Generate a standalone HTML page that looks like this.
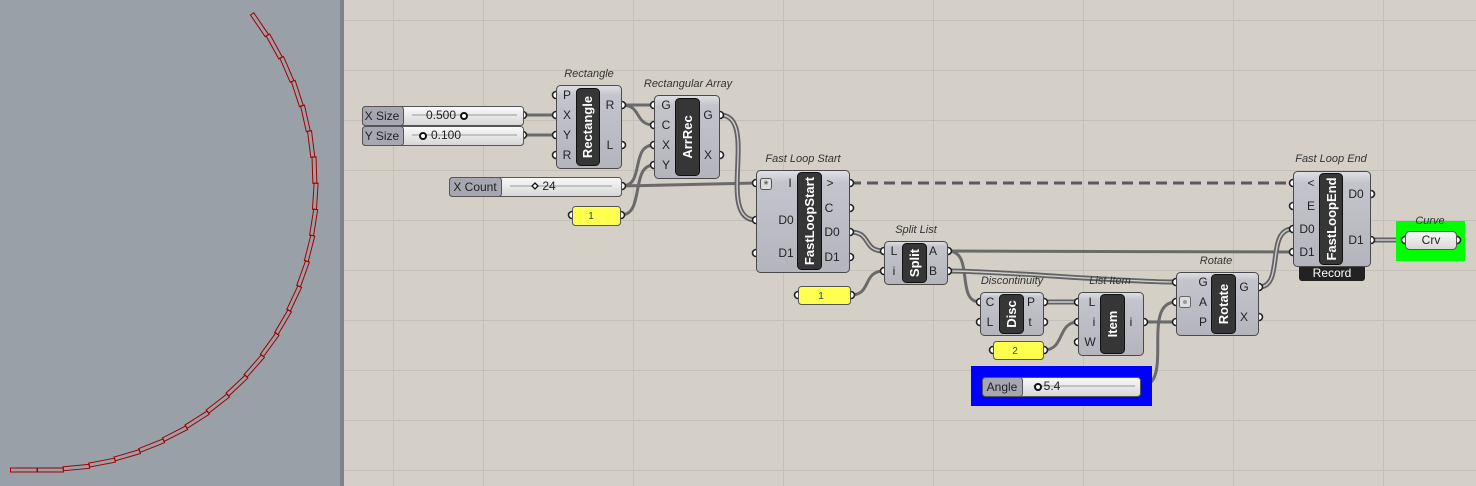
<!DOCTYPE html>
<html><head><meta charset="utf-8"><style>
html,body{margin:0;padding:0;width:1476px;height:486px;overflow:hidden;background:#d4d0c8}
svg{display:block}
text{font-family:"Liberation Sans",sans-serif}
.t{font-size:11px;font-style:italic;fill:#333;text-anchor:middle}
.p{font-size:12px;fill:#222;text-anchor:middle}
.b{font-size:13px;font-weight:bold;fill:#fff;text-anchor:middle}
.w{fill:none;stroke:#6a6a6a;stroke-width:3}
.dw{fill:none;stroke:#626262;stroke-width:5}
.di{fill:none;stroke:#cfcfcf;stroke-width:1.4}
.g{fill:#fff;stroke:#222;stroke-width:1.6}
.body{fill:url(#cg);stroke:#4a4a4a;stroke-width:1}
.bar{fill:#363636;stroke:#111;stroke-width:1}
.sl{fill:url(#sg);stroke:#555;stroke-width:1}
.sll{fill:#a7a7b2;stroke:#555;stroke-width:1}
.tk{stroke:#999;stroke-width:1}
</style></head><body>
<svg width="1476" height="486" viewBox="0 0 1476 486" xmlns="http://www.w3.org/2000/svg">
<defs>
<linearGradient id="cg" x1="0" y1="0" x2="0" y2="1"><stop offset="0" stop-color="#e0e0e6"/><stop offset="0.12" stop-color="#c4c4cc"/><stop offset="1" stop-color="#b4b4bc"/></linearGradient>
<linearGradient id="sg" x1="0" y1="0" x2="0" y2="1"><stop offset="0" stop-color="#fafafa"/><stop offset="1" stop-color="#d6d6d6"/></linearGradient>
</defs>
<rect x="0" y="0" width="342" height="486" fill="#9aa0a7"/>
<rect x="340" y="0" width="4" height="486" fill="#7f848a"/>
<g stroke="#c4c0b8" stroke-width="1">
<line x1="344" y1="20.5" x2="1476" y2="20.5"/><line x1="344" y1="70.5" x2="1476" y2="70.5"/>
<line x1="344" y1="120.5" x2="1476" y2="120.5"/><line x1="344" y1="170.5" x2="1476" y2="170.5"/>
<line x1="344" y1="220.5" x2="1476" y2="220.5"/><line x1="344" y1="270.5" x2="1476" y2="270.5"/>
<line x1="344" y1="320.5" x2="1476" y2="320.5"/><line x1="344" y1="370.5" x2="1476" y2="370.5"/>
<line x1="344" y1="420.5" x2="1476" y2="420.5"/><line x1="344" y1="470.5" x2="1476" y2="470.5"/>
<line x1="393.5" y1="0" x2="393.5" y2="486"/><line x1="483.5" y1="0" x2="483.5" y2="486"/>
<line x1="633.5" y1="0" x2="633.5" y2="486"/><line x1="783.5" y1="0" x2="783.5" y2="486"/>
<line x1="933.5" y1="0" x2="933.5" y2="486"/><line x1="1083.5" y1="0" x2="1083.5" y2="486"/>
<line x1="1233.5" y1="0" x2="1233.5" y2="486"/><line x1="1383.5" y1="0" x2="1383.5" y2="486"/>
</g>
<g fill="none" stroke="#a00000" stroke-width="1">
<rect x="10.5" y="468" width="27" height="4"/>
<g id="seg"><rect x="37" y="468" width="26.4" height="4"/></g>
<use href="#seg" transform="rotate(-5.4 37 192)"/><use href="#seg" transform="rotate(-10.8 37 192)"/>
<use href="#seg" transform="rotate(-16.2 37 192)"/><use href="#seg" transform="rotate(-21.6 37 192)"/>
<use href="#seg" transform="rotate(-27 37 192)"/><use href="#seg" transform="rotate(-32.4 37 192)"/>
<use href="#seg" transform="rotate(-37.8 37 192)"/><use href="#seg" transform="rotate(-43.2 37 192)"/>
<use href="#seg" transform="rotate(-48.6 37 192)"/><use href="#seg" transform="rotate(-54 37 192)"/>
<use href="#seg" transform="rotate(-59.4 37 192)"/><use href="#seg" transform="rotate(-64.8 37 192)"/>
<use href="#seg" transform="rotate(-70.2 37 192)"/><use href="#seg" transform="rotate(-75.6 37 192)"/>
<use href="#seg" transform="rotate(-81 37 192)"/><use href="#seg" transform="rotate(-86.4 37 192)"/>
<use href="#seg" transform="rotate(-91.8 37 192)"/><use href="#seg" transform="rotate(-97.2 37 192)"/>
<use href="#seg" transform="rotate(-102.6 37 192)"/><use href="#seg" transform="rotate(-108 37 192)"/>
<use href="#seg" transform="rotate(-113.4 37 192)"/><use href="#seg" transform="rotate(-118.8 37 192)"/>
<use href="#seg" transform="rotate(-124.2 37 192)"/>
</g>

<path class="w" d="M523 115 L556 115"/>
<path class="w" d="M523 135 L556 135"/>
<path class="w" d="M622 105 C640 105,636 105,654 105"/>
<path class="w" d="M622 105 C642 105,634 125,654 125"/>
<path class="w" d="M622 186 C645 186,630 145,654 145"/>
<path class="w" d="M622 186 L756 183"/>
<path class="w" d="M621 215 C645 215,630 165,654 165"/>
<path class="dw" d="M720 115 C760 115,715 220,756 220"/><path class="di" d="M720 115 C760 115,715 220,756 220"/>
<path d="M850 183 L1293 183" fill="none" stroke="#5a5a5a" stroke-width="3" stroke-dasharray="11,6"/>
<path class="dw" d="M850 232 C872 232,862 251,884 251"/><path class="di" d="M850 232 C872 232,862 251,884 251"/>
<path class="w" d="M851 295 C872 295,862 271,884 271"/>
<path class="w" d="M948 251 L1293 252"/>
<path class="w" d="M948 251 C975 251,955 302,980 302"/>
<path class="dw" d="M948 271 C1000 271,1120 282,1176 282"/><path class="di" d="M948 271 C1000 271,1120 282,1176 282"/>
<path class="dw" d="M1044 302 L1078 302"/><path class="di" d="M1044 302 L1078 302"/>
<path class="w" d="M1044 350 C1065 350,1057 322,1078 322"/>
<path class="w" d="M1144 322 L1176 322"/>
<path class="w" d="M1141 386 C1175 386,1140 302,1176 302"/>
<path class="dw" d="M1259 287 C1285 287,1265 229,1293 229"/><path class="di" d="M1259 287 C1285 287,1265 229,1293 229"/>
<path class="dw" d="M1371 240 L1405 240"/><path class="di" d="M1371 240 L1405 240"/>

<g>
<circle class="g" cx="523" cy="115" r="3.5"/>
<rect class="sl" x="362.5" y="106.5" width="161" height="19" rx="3"/>
<rect class="sll" x="362.5" y="106.5" width="41" height="19" rx="3"/>
<text class="p" x="382" y="120">X Size</text>
<line class="tk" x1="412" y1="115" x2="517" y2="115"/>
<text class="p" x="441" y="119">0.500</text>
<circle cx="464" cy="116" r="3" fill="#fff" stroke="#111" stroke-width="2"/>

<circle class="g" cx="523" cy="135" r="3.5"/>
<rect class="sl" x="362.5" y="126.5" width="161" height="19" rx="3"/>
<rect class="sll" x="362.5" y="126.5" width="41" height="19" rx="3"/>
<text class="p" x="382" y="140">Y Size</text>
<line class="tk" x1="412" y1="135" x2="517" y2="135"/>
<circle cx="423" cy="136" r="3" fill="#fff" stroke="#111" stroke-width="2"/>
<text class="p" x="446" y="139">0.100</text>

<circle class="g" cx="622" cy="186" r="3.5"/>
<rect class="sl" x="449.5" y="177.5" width="172" height="19" rx="3"/>
<rect class="sll" x="449.5" y="177.5" width="52" height="19" rx="3"/>
<text class="p" x="475" y="191">X Count</text>
<line class="tk" x1="510" y1="186" x2="612" y2="186"/>
<path d="M535 183 L538 186 L535 189 L532 186 Z" fill="#fff" stroke="#111" stroke-width="1.3"/>
<text class="p" x="549" y="190">24</text>

<circle class="g" cx="1141" cy="386" r="3.5"/>
<rect x="971" y="366" width="181" height="40" fill="#0000ff"/>
<rect class="sl" x="982.5" y="377.5" width="158" height="19" rx="3"/>
<rect class="sll" x="982.5" y="377.5" width="40" height="19" rx="3"/>
<text class="p" x="1002" y="391">Angle</text>
<line class="tk" x1="1033" y1="386" x2="1135" y2="386"/>
<circle cx="1038" cy="387" r="3" fill="#fff" stroke="#111" stroke-width="2"/>
<text class="p" x="1052" y="390">5.4</text>
</g>

<g>
<circle class="g" cx="572" cy="215" r="3.5"/><circle class="g" cx="621" cy="215" r="3.5"/>
<rect x="572.5" y="206.5" width="48" height="19" rx="3" fill="#ffff50" stroke="#555"/>
<text class="p" x="591" y="219" style="font-size:10px;fill:#155">1</text>
<circle class="g" cx="798" cy="295" r="3.5"/><circle class="g" cx="851" cy="295" r="3.5"/>
<rect x="798.5" y="286.5" width="52" height="18" rx="3" fill="#ffff50" stroke="#555"/>
<text class="p" x="821" y="299" style="font-size:10px;fill:#155">1</text>
<circle class="g" cx="993" cy="350" r="3.5"/><circle class="g" cx="1044" cy="350" r="3.5"/>
<rect x="993.5" y="341.5" width="50" height="18" rx="3" fill="#ffff50" stroke="#555"/>
<text class="p" x="1015" y="354" style="font-size:10px;fill:#155">2</text>
</g>

<text class="t" x="589" y="77">Rectangle</text>
<circle class="g" cx="556" cy="95" r="3.5"/><circle class="g" cx="556" cy="115" r="3.5"/><circle class="g" cx="556" cy="135" r="3.5"/><circle class="g" cx="556" cy="155" r="3.5"/>
<circle class="g" cx="622" cy="105" r="3.5"/><circle class="g" cx="622" cy="145" r="3.5"/>
<rect class="body" x="556.5" y="85.5" width="65" height="83" rx="4"/>
<rect class="bar" x="576.5" y="88.5" width="23" height="77" rx="4"/>
<text class="b" transform="translate(592 127) rotate(-90)">Rectangle</text>
<text class="p" x="567" y="99">P</text><text class="p" x="567" y="119">X</text><text class="p" x="567" y="139">Y</text><text class="p" x="567" y="159">R</text>
<text class="p" x="610" y="109">R</text><text class="p" x="610" y="149">L</text>

<text class="t" x="688" y="87">Rectangular Array</text>
<circle class="g" cx="654" cy="105" r="3.5"/><circle class="g" cx="654" cy="125" r="3.5"/><circle class="g" cx="654" cy="145" r="3.5"/><circle class="g" cx="654" cy="165" r="3.5"/>
<circle class="g" cx="720" cy="115" r="3.5"/><circle class="g" cx="720" cy="155" r="3.5"/>
<rect class="body" x="654.5" y="95.5" width="65" height="83" rx="4"/>
<rect class="bar" x="675.5" y="98.5" width="24" height="77" rx="4"/>
<text class="b" transform="translate(692 137) rotate(-90)">ArrRec</text>
<text class="p" x="666" y="109">G</text><text class="p" x="666" y="129">C</text><text class="p" x="666" y="149">X</text><text class="p" x="666" y="169">Y</text>
<text class="p" x="708" y="119">G</text><text class="p" x="708" y="159">X</text>

<text class="t" x="803" y="162">Fast Loop Start</text>
<circle class="g" cx="756" cy="183" r="3.5"/><circle class="g" cx="756" cy="220" r="3.5"/><circle class="g" cx="756" cy="253" r="3.5"/>
<circle class="g" cx="850" cy="183" r="3.5"/><circle class="g" cx="850" cy="208" r="3.5"/><circle class="g" cx="850" cy="232" r="3.5"/><circle class="g" cx="850" cy="257" r="3.5"/>
<rect class="body" x="756.5" y="170.5" width="93" height="102" rx="4"/>
<rect class="bar" x="797.5" y="172.5" width="24" height="97" rx="4"/>
<text class="b" transform="translate(814 221) rotate(-90)">FastLoopStart</text>
<rect x="760.5" y="178.5" width="11" height="11" rx="2" fill="#ddd" stroke="#555"/>
<text x="766" y="188" style="font-size:11px;fill:#666;text-anchor:middle;font-weight:bold">*</text>
<text class="p" x="790" y="187">I</text><text class="p" x="786" y="224">D0</text><text class="p" x="786" y="257">D1</text>
<text class="p" x="830" y="187">&gt;</text><text class="p" x="829" y="212">C</text><text class="p" x="832" y="236">D0</text><text class="p" x="832" y="261">D1</text>

<text class="t" x="916" y="233">Split List</text>
<circle class="g" cx="884" cy="251" r="3.5"/><circle class="g" cx="884" cy="271" r="3.5"/>
<circle class="g" cx="948" cy="251" r="3.5"/><circle class="g" cx="948" cy="271" r="3.5"/>
<rect class="body" x="884.5" y="241.5" width="63" height="43" rx="4"/>
<rect class="bar" x="902.5" y="243.5" width="24" height="39" rx="4"/>
<text class="b" transform="translate(919 263) rotate(-90)">Split</text>
<text class="p" x="894" y="255">L</text><text class="p" x="894" y="275">i</text>
<text class="p" x="933" y="255">A</text><text class="p" x="933" y="275">B</text>

<text class="t" x="1012" y="284">Discontinuity</text>
<circle class="g" cx="980" cy="302" r="3.5"/><circle class="g" cx="980" cy="322" r="3.5"/>
<circle class="g" cx="1044" cy="302" r="3.5"/><circle class="g" cx="1044" cy="322" r="3.5"/>
<rect class="body" x="980.5" y="292.5" width="63" height="43" rx="4"/>
<rect class="bar" x="999.5" y="294.5" width="24" height="39" rx="4"/>
<text class="b" transform="translate(1016 314) rotate(-90)">Disc</text>
<text class="p" x="990" y="306">C</text><text class="p" x="990" y="326">L</text>
<text class="p" x="1031" y="306">P</text><text class="p" x="1030" y="326">t</text>

<text class="t" x="1110" y="284">List Item</text>
<circle class="g" cx="1078" cy="302" r="3.5"/><circle class="g" cx="1078" cy="322" r="3.5"/><circle class="g" cx="1078" cy="342" r="3.5"/>
<circle class="g" cx="1144" cy="322" r="3.5"/>
<rect class="body" x="1078.5" y="292.5" width="65" height="63" rx="4"/>
<rect class="bar" x="1100.5" y="294.5" width="24" height="59" rx="4"/>
<text class="b" transform="translate(1117 324) rotate(-90)">Item</text>
<text class="p" x="1092" y="306">L</text><text class="p" x="1094" y="326">i</text><text class="p" x="1090" y="346">W</text>
<text class="p" x="1131" y="326">i</text>

<text class="t" x="1216" y="264">Rotate</text>
<circle class="g" cx="1176" cy="282" r="3.5"/><circle class="g" cx="1176" cy="302" r="3.5"/><circle class="g" cx="1176" cy="322" r="3.5"/>
<circle class="g" cx="1259" cy="287" r="3.5"/><circle class="g" cx="1259" cy="317" r="3.5"/>
<rect class="body" x="1176.5" y="272.5" width="82" height="63" rx="4"/>
<rect class="bar" x="1211.5" y="274.5" width="24" height="59" rx="4"/>
<text class="b" transform="translate(1228 304) rotate(-90)">Rotate</text>
<rect x="1179.5" y="296.5" width="11" height="11" rx="2" fill="#ddd" stroke="#666"/>
<circle cx="1185" cy="302" r="2" fill="#999"/>
<text class="p" x="1203" y="286">G</text><text class="p" x="1203" y="306">A</text><text class="p" x="1203" y="326">P</text>
<text class="p" x="1244" y="291">G</text><text class="p" x="1244" y="321">X</text>

<text class="t" x="1331" y="162">Fast Loop End</text>
<rect x="1299" y="262" width="66" height="19" rx="3" fill="#222"/>
<text x="1332" y="277" style="font-size:12px;fill:#fff;text-anchor:middle">Record</text>
<circle class="g" cx="1293" cy="183" r="3.5"/><circle class="g" cx="1293" cy="206" r="3.5"/><circle class="g" cx="1293" cy="229" r="3.5"/><circle class="g" cx="1293" cy="252" r="3.5"/>
<circle class="g" cx="1371" cy="194" r="3.5"/><circle class="g" cx="1371" cy="240" r="3.5"/>
<rect class="body" x="1293.5" y="171.5" width="77" height="95" rx="4"/>
<rect class="bar" x="1319.5" y="173.5" width="23" height="91" rx="4"/>
<text class="b" transform="translate(1336 219) rotate(-90)">FastLoopEnd</text>
<text class="p" x="1311" y="187">&lt;</text><text class="p" x="1311" y="210">E</text><text class="p" x="1307" y="233">D0</text><text class="p" x="1307" y="256">D1</text>
<text class="p" x="1356" y="198">D0</text><text class="p" x="1356" y="244">D1</text>

<rect x="1396" y="221" width="69" height="40" fill="#00ff00"/>
<text class="t" x="1430" y="224">Curve</text>
<circle class="g" cx="1405" cy="240" r="3.5"/><circle class="g" cx="1457" cy="240" r="3.5"/>
<rect x="1405.5" y="231.5" width="51" height="18" rx="4" fill="url(#sg)" stroke="#555"/>
<text class="p" x="1431" y="244">Crv</text>
</svg>
</body></html>
